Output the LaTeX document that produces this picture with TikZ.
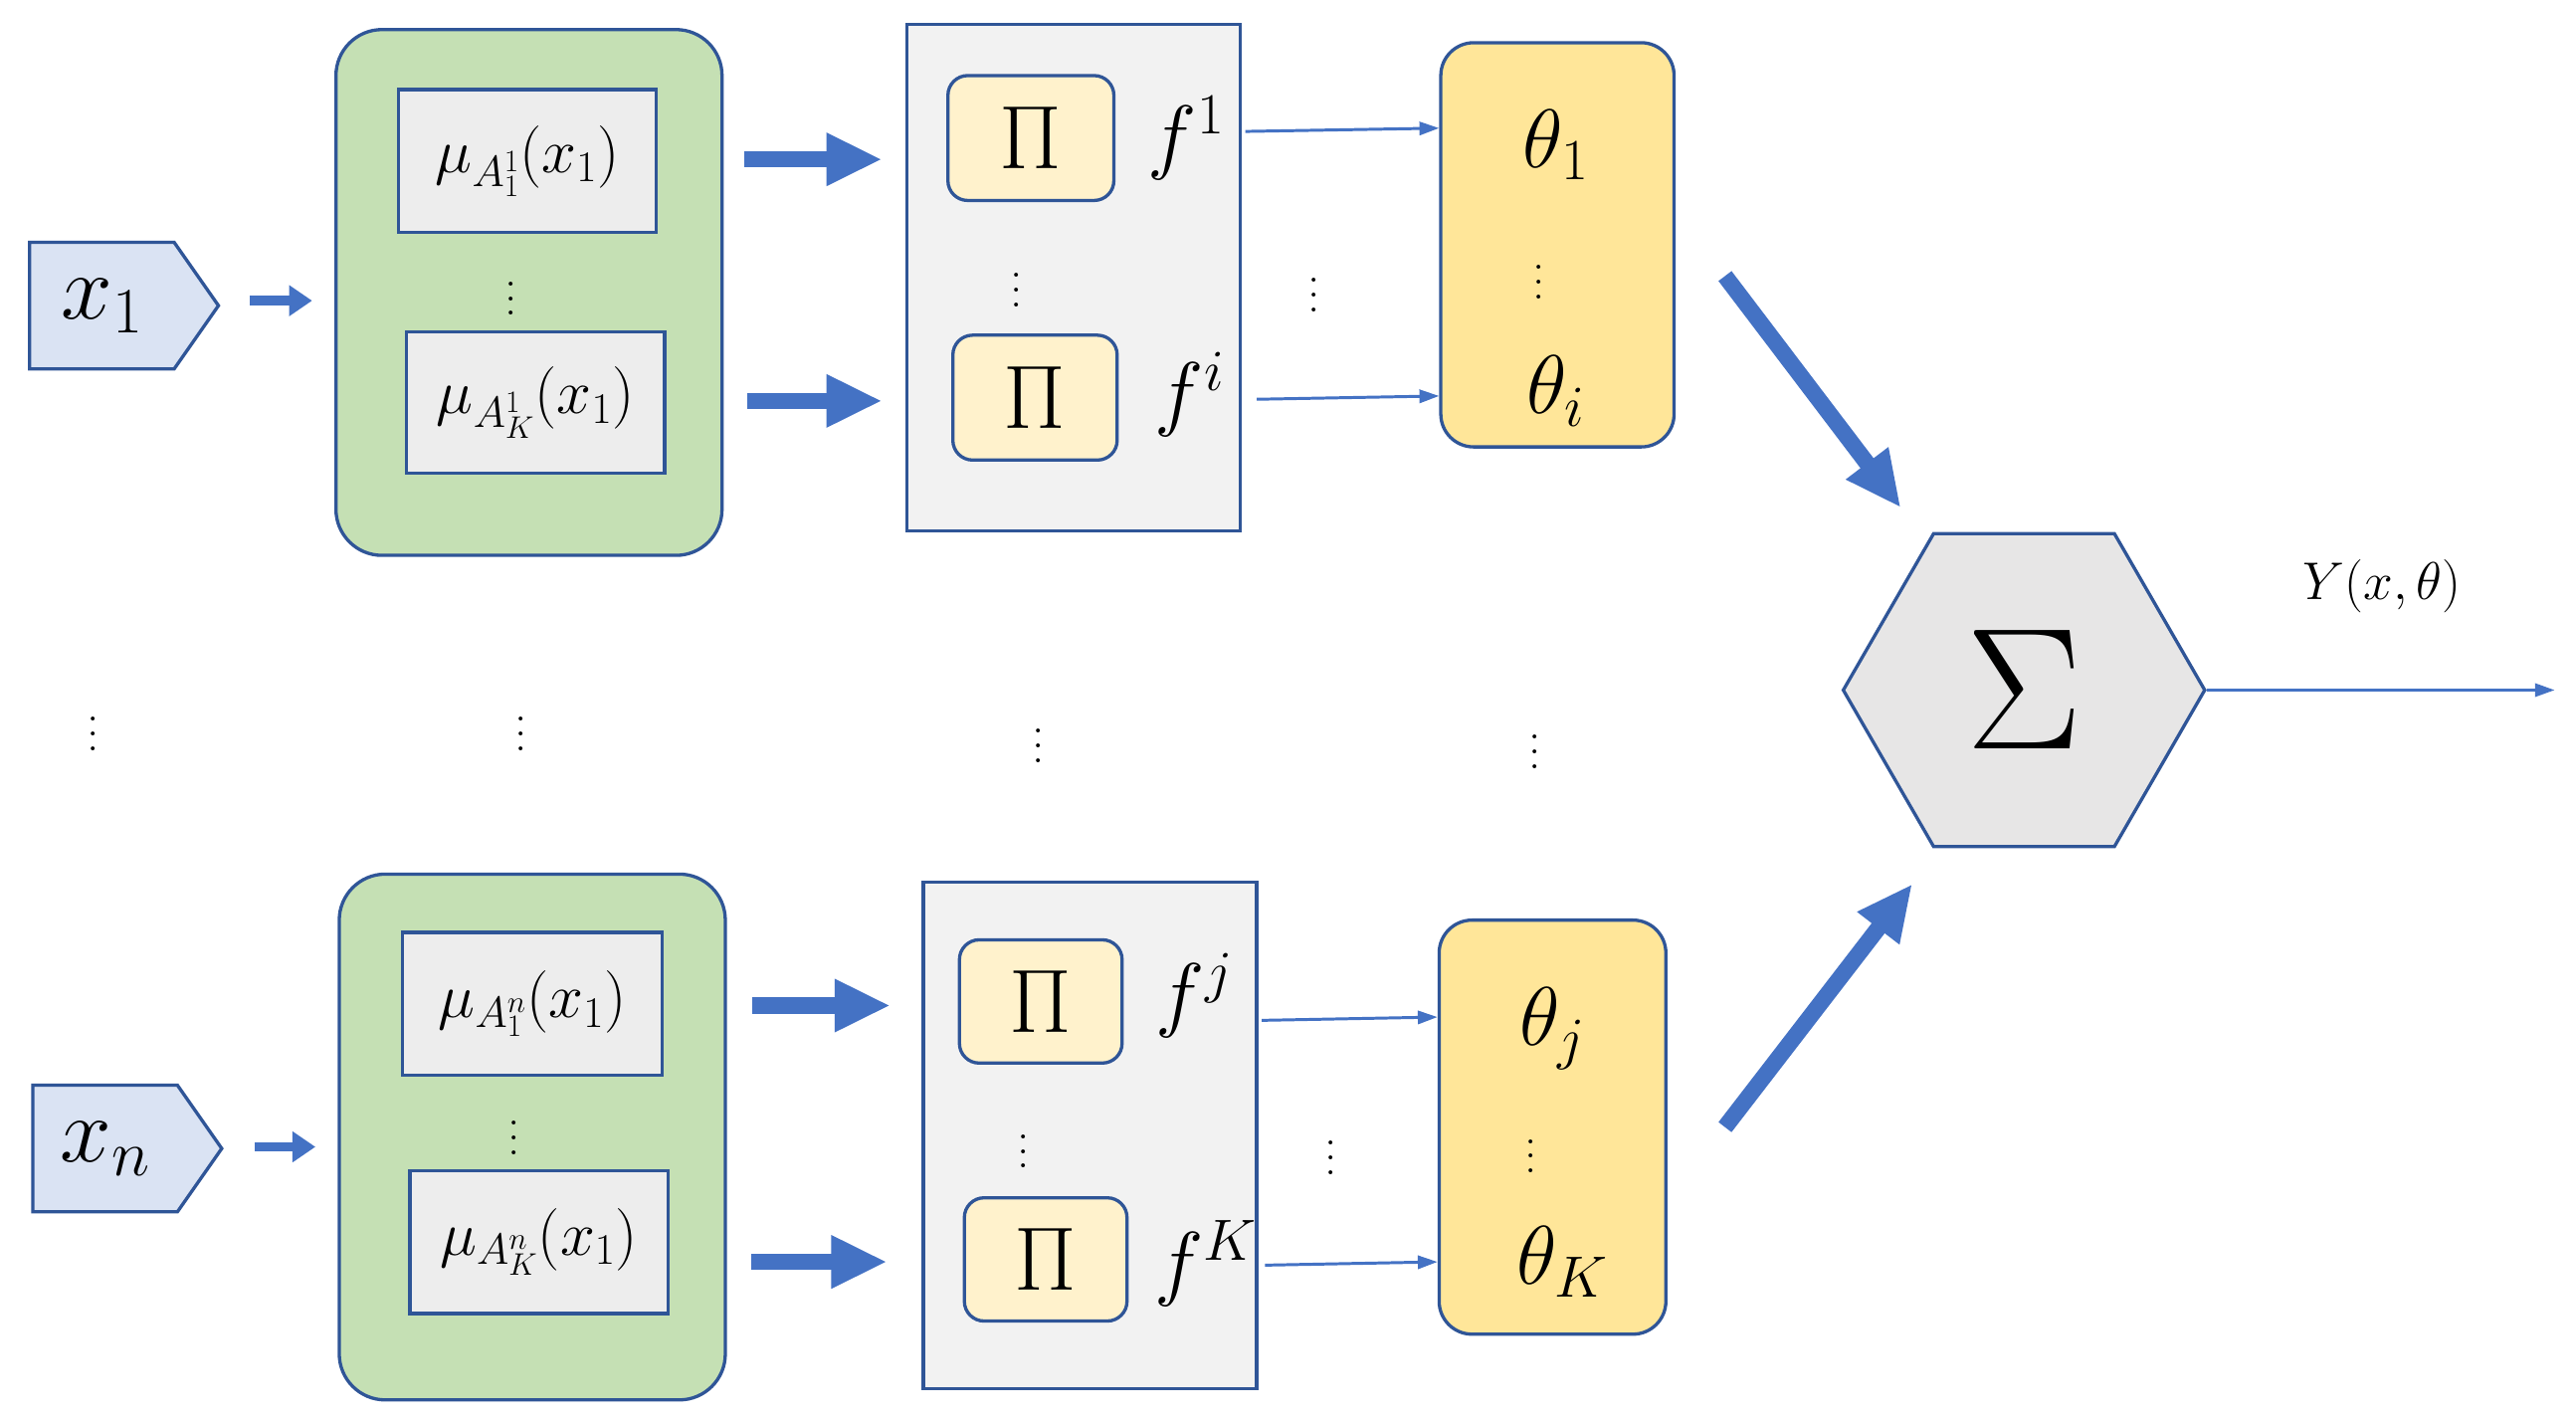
\documentclass[tikz,border=0pt]{standalone}
\usepackage{fix-cm}
\usepackage{amsmath}
\usetikzlibrary{shapes.geometric,shapes.symbols,arrows.meta}
\definecolor{bd}{HTML}{2F5597}
\definecolor{ar}{HTML}{4472C4}
\begin{document}
\begin{tikzpicture}[x=0.5mm,y=-0.5mm,
 inp/.style={signal,signal to=east,draw=bd,fill={rgb,255:red,218;green,227;blue,243},line width=1mm,minimum width=57.5mm,minimum height=38.5mm,signal pointer angle=110,font=\fontsize{80}{90}\selectfont,inner sep=0pt},
 grn/.style={draw=bd,fill={rgb,255:red,197;green,224;blue,180},line width=1mm,rounded corners=14mm},
 mu/.style={draw=bd,fill={rgb,255:red,237;green,237;blue,237},line width=1mm,font=\fontsize{54}{60}\selectfont},
 gry/.style={draw=bd,fill={rgb,255:red,242;green,242;blue,242},line width=1mm},
 pi/.style={draw=bd,fill={rgb,255:red,255;green,242;blue,204},line width=1mm,rounded corners=6mm,font=\fontsize{78}{80}\selectfont},
 th/.style={draw=bd,fill={rgb,255:red,255;green,230;blue,153},line width=1mm,rounded corners=10mm},
 tx/.style={font=\fontsize{72}{80}\selectfont},
 dt/.style={scale=3.2,inner sep=0pt},
 sm/.style={ar,line width=3mm,-{Triangle[length=7mm,width=9mm]}},
 big/.style={ar,line width=5mm,-{Triangle[length=17mm,width=15mm]}},
 thin/.style={ar,line width=0.9mm,-{Triangle[length=6mm,width=4mm]}},
]
\useasboundingbox (0,0) rectangle (1568,865);
% inputs
\node[inp] (x1) at (62,186) {$x_1$};
\node[inp] (xn) at (64,699) {$x_n$};
% green
\node[grn,minimum width=117.5mm,minimum height=160mm] (g1) at (322,178) {};
\node[grn,minimum width=117.5mm,minimum height=160mm] (g2) at (324,692) {};
\node[mu,minimum width=78.5mm,minimum height=43.5mm] (m11) at (321,98) {$\mu_{A_1^1}(x_1)$};
\node[mu,minimum width=78.5mm,minimum height=43mm] (m1k) at (326,245) {$\mu_{A_K^1}(x_1)$};
\node[mu,minimum width=79mm,minimum height=43.5mm] (mn1) at (324,611) {$\mu_{A_1^n}(x_1)$};
\node[mu,minimum width=78.5mm,minimum height=43.5mm] (mnk) at (328,756) {$\mu_{A_K^n}(x_1)$};
\node[dt] (v1) at (311,175) {$\vdots$};
\node[dt] (v2) at (313,686) {$\vdots$};
% small arrows
\coordinate (s1) at (152,183); \coordinate (e1) at (190,183);
\coordinate (s2) at (155,698); \coordinate (e2) at (192,698);
\draw[sm] (s1) -- (e1); \draw[sm] (s2) -- (e2);
% gray boxes
\node[gry,minimum width=101.5mm,minimum height=154mm] (r1) at (653.5,169) {};
\node[gry,minimum width=101.5mm,minimum height=154mm] (r2) at (663.5,691) {};
\node[pi,minimum width=50.5mm,minimum height=38mm] (p1) at (627.5,84) {$\Pi$};
\node[pi,minimum width=50mm,minimum height=38mm] (p2) at (630,242) {$\Pi$};
\node[pi,minimum width=49.5mm,minimum height=37.5mm] (p3) at (633.5,609.5) {$\Pi$};
\node[pi,minimum width=49.5mm,minimum height=37.5mm] (p4) at (636.5,766.5) {$\Pi$};
\node[dt] (v3) at (619,170) {$\vdots$};
\node[dt] (v4) at (623,694) {$\vdots$};
\node[tx] (f1) at (722,84) {$f^1$};
\node[tx] (fi) at (724,240) {$f^i$};
\node[tx] (fj) at (727,606) {$f^j$};
\node[tx] (fk) at (734,769) {$f^K$};
% big arrows into gray
\coordinate (a1) at (453,97); \coordinate (b1) at (537,97);
\coordinate (a2) at (455,244); \coordinate (b2) at (537,244);
\coordinate (a3) at (458,612); \coordinate (b3) at (542,612);
\coordinate (a4) at (457,768); \coordinate (b4) at (540,768);
\draw[big] (a1) -- (b1); \draw[big] (a2) -- (b2);
\draw[big] (a3) -- (b3); \draw[big] (a4) -- (b4);
% theta
\node[th,minimum width=71mm,minimum height=123mm] (t1) at (948,149) {};
\node[th,minimum width=69mm,minimum height=126mm] (t2) at (945,686) {};
\node[tx] at (947,88) {$\theta_1$};
\node[dt] at (937,165) {$\vdots$};
\node[tx] at (947,238) {$\theta_i$};
\node[tx] at (945,626) {$\theta_j$};
\node[dt] at (932,697) {$\vdots$};
\node[tx] at (951,768) {$\theta_K$};
\node[dt] at (800,173) {$\vdots$};
\node[dt] at (810,698) {$\vdots$};
% thin arrows
\coordinate (q1) at (758,80); \coordinate (q2) at (765,243);
\coordinate (q3) at (768,621); \coordinate (q4) at (770,770);
\draw[thin] (q1) -- (t1.west|-0,78);
\draw[thin] (q2) -- (t1.west|-0,241);
\draw[thin] (q3) -- (t2.west|-0,619);
\draw[thin] (q4) -- (t2.west|-0,768);
% hexagon
\node[regular polygon,regular polygon sides=6,shape border rotate=0,draw=bd,fill={rgb,255:red,231;green,230;blue,230},line width=1mm,minimum size=110mm,inner sep=0pt,font=\fontsize{150}{160}\selectfont] (h) at (1232,420) {$\Sigma$};
\coordinate (c1) at (1050,168); \coordinate (c2) at (1050,686);
\draw[big] (c1) -- (1157,309);
\draw[big] (c2) -- (1164,538);
\coordinate (out) at (1555,420);
\draw[thin] (h.east) -- (out);
\node[font=\fontsize{46}{50}\selectfont] (y) at (1450,357) {$Y(x,\theta)$};
% row of dots
\node[dt] at (57,440) {$\vdots$};
\node[dt] at (317,440) {$\vdots$};
\node[dt] at (632,447) {$\vdots$};
\node[dt] at (934,451) {$\vdots$};
\end{tikzpicture}
\end{document}
